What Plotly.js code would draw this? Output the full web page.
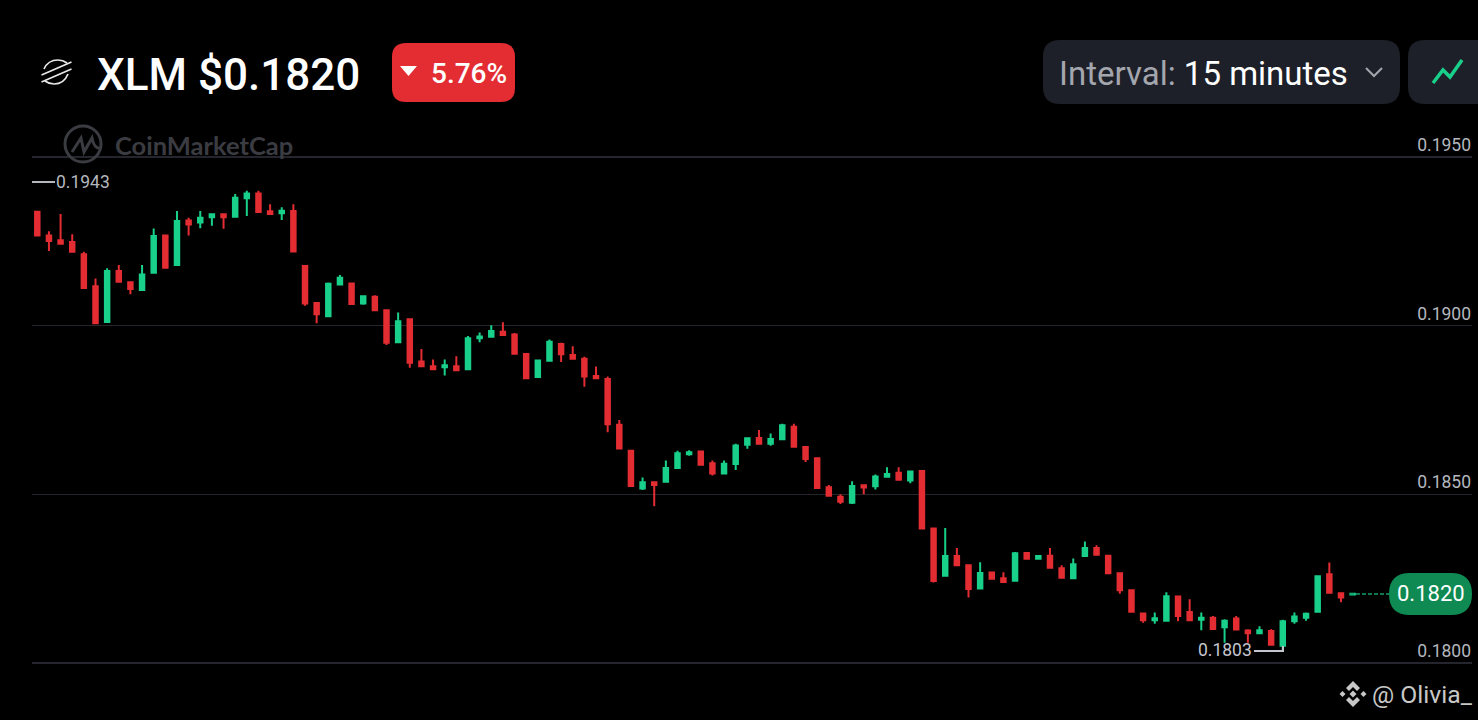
<!DOCTYPE html>
<html>
<head>
<meta charset="utf-8">
<script src="https://cdn.plot.ly/plotly-3.0.1.min.js"></script>
<style>html,body{margin:0;padding:0;background:#000;overflow:hidden}#chart{width:1478px;height:720px}</style>
</head>
<body>
<div id="chart"></div>
<script>
// Candle values (one entry per 15-minute candle)
const highs = [
.19338,.19280,.19331,.19271,.19219,.19140,.19170,.19180,.19129,.19180,
.19288,.19270,.19340,.19320,.19340,.19330,.19330,.19390,.19400,.19400,
.19360,.19351,.19360,.19178,.19068,.19128,.19150,.19128,.19089,.19090,
.19048,.19039,.19020,.18931,.18900,.18900,.18909,.18969,.18980,.19001,
.19010,.18978,.18918,.18900,.18959,.18949,.18939,.18908,.18879,.18849,
.18720,.18629,.18550,.18539,.18600,.18629,.18631,.18630,.18600,.18600,
.18650,.18669,.18691,.18680,.18709,.18709,.18640,.18609,.18528,.18500,
.18539,.18530,.18559,.18580,.18580,.18570,.18570,.18399,.18400,.18341,
.18290,.18299,.18269,.18269,.18329,.18329,.18319,.18341,.18290,.18310,
.18360,.18349,.18320,.18269,.18218,.18148,.18150,.18210,.18199,.18189,
.18150,.18139,.18130,.18139,.18100,.18109,.18100,.18128,.18150,.18150,
.18260,.18298,.18210,.18206];
const lows = [
.19267,.19221,.19243,.19219,.19112,.19005,.19011,.19130,.19093,.19104,
.19157,.19172,.19180,.19267,.19289,.19296,.19287,.19323,.19325,.19335,
.19331,.19313,.19220,.19059,.19007,.19028,.19120,.19064,.19062,.19046,
.18943,.18951,.18875,.18880,.18871,.18852,.18868,.18871,.18951,.18967,
.18970,.18917,.18844,.18848,.18894,.18892,.18902,.18819,.18844,.18684,
.18636,.18522,.18513,.18465,.18537,.18578,.18614,.18588,.18556,.18562,
.18572,.18635,.18650,.18644,.18663,.18641,.18596,.18519,.18493,.18471,
.18471,.18500,.18514,.18552,.18543,.18533,.18399,.18239,.18259,.18290,
.18194,.18221,.18250,.18238,.18244,.18309,.18308,.18282,.18253,.18251,
.18317,.18321,.18266,.18205,.18152,.18119,.18116,.18125,.18124,.18124,
.18097,.18101,.18060,.18099,.18060,.18088,.18054,.18036,.18116,.18125,
.18152,.18208,.18180,.18202];
const opens = [
.19338,.19267,.19253,.19248,.19212,.19117,.19011,.19162,.19129,.19106,
.19157,.19267,.19180,.19312,.19306,.19321,.19330,.19323,.19378,.19392,
.19339,.19333,.19340,.19177,.19067,.19028,.19122,.19125,.19066,.19086,
.19046,.18951,.19019,.18894,.18880,.18877,.18880,.18871,.18963,.18967,
.18982,.18974,.18916,.18848,.18896,.18946,.18913,.18902,.18851,.18842,
.18706,.18629,.18517,.18536,.18537,.18578,.18619,.18627,.18592,.18562,
.18590,.18647,.18667,.18650,.18663,.18700,.18640,.18607,.18521,.18493,
.18475,.18527,.18524,.18552,.18564,.18541,.18569,.18399,.18259,.18317,
.18290,.18221,.18268,.18251,.18244,.18326,.18309,.18318,.18281,.18251,
.18317,.18341,.18318,.18266,.18216,.18147,.18127,.18125,.18197,.18151,
.18128,.18134,.18106,.18132,.18096,.18088,.18095,.18051,.18124,.18134,
.18152,.18263,.18207,.18203];
const closes = [
.19267,.19251,.19243,.19219,.19112,.19007,.19162,.19130,.19109,.19152,
.19266,.19172,.19310,.19300,.19320,.19330,.19321,.19379,.19392,.19337,
.19331,.19341,.19220,.19066,.19034,.19124,.19142,.19064,.19087,.19046,
.18949,.19013,.18890,.18880,.18871,.18883,.18868,.18963,.18968,.18984,
.18972,.18917,.18844,.18897,.18952,.18915,.18902,.18849,.18844,.18708,
.18636,.18525,.18536,.18528,.18578,.18622,.18625,.18588,.18562,.18591,
.18645,.18666,.18650,.18664,.18705,.18641,.18605,.18519,.18496,.18478,
.18525,.18520,.18553,.18560,.18543,.18568,.18399,.18243,.18317,.18290,
.18219,.18267,.18250,.18240,.18325,.18309,.18317,.18282,.18253,.18293,
.18341,.18321,.18266,.18216,.18152,.18127,.18133,.18198,.18139,.18127,
.18134,.18101,.18125,.18099,.18088,.18097,.18054,.18124,.18138,.18146,
.18257,.18208,.18194,.18205];
const candleIndex = opens.map((_, i) => i);
const priceTicks = [0.18, 0.185, 0.19, 0.195];
const priceTickLabels = ['0.1800', '0.1850', '0.1900', '0.1950'];

const symbolText = 'XLM $0.1820';
const changeText = '5.76%';
const intervalLabel = 'Interval:';
const intervalValue = '15 minutes';
const highLabel = '0.1943';
const lowLabel = '0.1803';
const lastLabel = '0.1820';
const wmText = 'CoinMarketCap';
const authorText = '@ Olivia_';

const GREEN = '#19d08a', RED = '#e32d32';
// plot box in page pixels
const L = 32, R = 1472, T = 130, B = 700;
const W = R - L, H = B - T;
const fx = x => (x - L) / W;
const fy = y => (B - y) / H;
const pth = s => s.replace(/(-?[\d.]+),(-?[\d.]+)/g, (_, a, b) => fx(+a) + ',' + fy(+b));
const shape = (d, o) => Object.assign({type: 'path', xref: 'paper', yref: 'paper', path: pth(d), line: {width: 0}}, o || {});
const rrect = (x0, y0, x1, y1, r) =>
  `M${x0 + r},${y0} L${x1 - r},${y0} Q${x1},${y0} ${x1},${y0 + r} L${x1},${y1 - r} Q${x1},${y1} ${x1 - r},${y1} L${x0 + r},${y1} Q${x0},${y1} ${x0},${y1 - r} L${x0},${y0 + r} Q${x0},${y0} ${x0 + r},${y0} Z`;
const ann = (text, x, y, size, color, anchor, extra) => Object.assign({
  text, x: fx(x), y: fy(y), xref: 'paper', yref: 'paper', showarrow: false,
  xanchor: anchor || 'left', yanchor: 'middle',
  font: Object.assign({family: 'Roboto', size, color}, (extra || {}).font || {})
}, (extra && extra.opts) || {});

const shapes = [
  // Stellar logo
  shape('M44,69 Q48,60 58,60 Q63,60 67,63', {line: {color: '#e8e8e8', width: 1.7}}),
  shape('M68,74 Q64,84 54,84 Q49,84 45,81', {line: {color: '#e8e8e8', width: 1.7}}),
  shape('M41.5,75 L71.5,62', {line: {color: '#e8e8e8', width: 1.7}}),
  shape('M41.5,82 L71.5,69', {line: {color: '#e8e8e8', width: 1.7}}),
  // change badge
  shape(rrect(392, 43, 515, 102, 14), {fillcolor: RED}),
  shape('M400,66 L417,66 L408.5,76 Z', {fillcolor: '#fff'}),
  // interval pills
  shape(rrect(1043, 40, 1400, 104, 17), {fillcolor: '#1e2029'}),
  shape(rrect(1408, 40, 1500, 104, 17), {fillcolor: '#1e2029'}),
  shape('M1366,68 L1374,76 L1382,68', {line: {color: '#a4a6ad', width: 2}}),
  shape('M1433,83 L1443,70 L1450,77 L1462,60', {line: {color: GREEN, width: 3.5}}),
  // CoinMarketCap logo
  {type: 'circle', xref: 'paper', yref: 'paper', x0: fx(65), x1: fx(101), y0: fy(126), y1: fy(162), line: {color: '#3b3c42', width: 3}},
  shape('M72,152 L81,138 L84,152 L92,138 Q94,148 99,148', {line: {color: '#3b3c42', width: 3}}),
  // extreme markers
  shape('M32,182 L55,182', {line: {color: '#b5b7be', width: 2}}),
  shape('M1254,651 L1283,651 L1283,646', {line: {color: '#c4c6cf', width: 2}}),
  // last price line and badge
  shape('M1350,594 L1390,594', {line: {color: '#15a06a', width: 1.5, dash: '4px,2px'}}),
  shape(rrect(1389, 573, 1472, 615, 21), {fillcolor: '#0e8a52'}),
  // Binance logo
  shape('M1353,681 L1360,688 L1357,691 L1353,687 L1349,691 L1346,688 Z', {fillcolor: '#c8c8c8'}),
  shape('M1353,707 L1360,700 L1357,697 L1353,701 L1349,697 L1346,700 Z', {fillcolor: '#c8c8c8'}),
  shape('M1339.5,694 L1342.5,691 L1345.5,694 L1342.5,697 Z', {fillcolor: '#c8c8c8'}),
  shape('M1360.5,694 L1363.5,691 L1366.5,694 L1363.5,697 Z', {fillcolor: '#c8c8c8'}),
  shape('M1349.5,694 L1353,690.5 L1356.5,694 L1353,697.5 Z', {fillcolor: '#c8c8c8'})
];

const annotations = [
  ann(symbolText, 95, 75, 44, '#ffffff', 'left', {font: {weight: 500}}),
  ann(changeText, 429, 74, 28, '#ffffff', 'left', {font: {weight: 500}}),
  ann(`<span style="color:#a4a6ae">${intervalLabel}</span> ${intervalValue}`, 1057, 74, 33, '#ffffff'),
  ann(wmText, 113, 145, 25.5, '#3b3c42', 'left', {font: {family: 'Lato', weight: 700}}),
  ann(highLabel, 54, 182, 17.5, '#b5b7be'),
  ann(lowLabel, 1196, 650, 17.5, '#c4c6cf'),
  ann(lastLabel, 1430.5, 593.5, 22, '#ffffff', 'center'),
  ann(authorText, 1370, 694, 24.7, '#c8c8c8')
];

const trace = {
  type: 'candlestick',
  x: candleIndex, open: opens, high: highs, low: lows, close: closes,
  increasing: {line: {color: GREEN, width: 2}, fillcolor: GREEN},
  decreasing: {line: {color: RED, width: 2}, fillcolor: RED},
  whiskerwidth: 0,
  hoverinfo: 'skip'
};

const priceAt = y => 0.18 + (663 - y) * 0.005 / 168.67;
const indexAt = x => (x - 37.3) / 11.64;

const layout = {
  width: 1478, height: 720,
  paper_bgcolor: '#000', plot_bgcolor: '#000',
  margin: {l: L, r: 1478 - R, t: T, b: 720 - B, pad: 0},
  showlegend: false,
  boxgap: 0.45,
  font: {family: 'Roboto', color: '#b5b7be'},
  xaxis: {range: [indexAt(L), indexAt(R)], showgrid: false, zeroline: false, showline: false,
    showticklabels: false, ticks: '', rangeslider: {visible: false}, fixedrange: true},
  yaxis: {range: [priceAt(B), priceAt(T)], side: 'right', tickmode: 'array',
    tickvals: priceTicks, ticktext: priceTickLabels, ticklabelposition: 'inside', ticklabelshift: -12, ticklabelstandoff: -2, ticks: '',
    gridcolor: '#24252d', gridwidth: 1.5, zeroline: false, showline: false, fixedrange: true,
    tickfont: {family: 'Roboto', size: 17.5, color: '#b5b7be'}},
  shapes, annotations
};

Plotly.newPlot('chart', [trace], layout, {displayModeBar: false, staticPlot: true});
</script>
</body>
</html>
